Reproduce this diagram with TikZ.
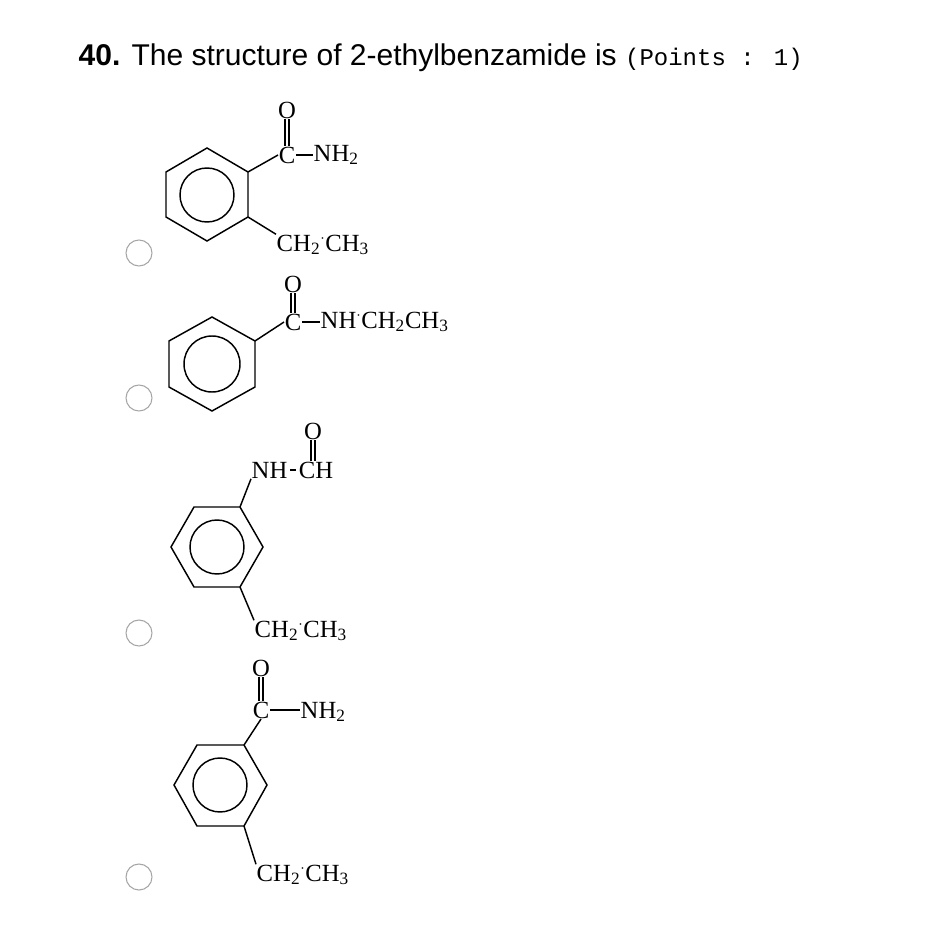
\documentclass[tikz,border=0pt]{standalone}
\usepackage{fontspec}
\setmainfont{Liberation Serif}
\newfontfamily\hsans{Liberation Sans}
\newfontfamily\hmono{Liberation Mono}
\begin{document}
\begin{tikzpicture}[x=0.75pt,y=-0.75pt,line width=1.1pt,
  atom/.style={inner sep=0pt,font=\fontsize{18.5}{18.5}\selectfont},
  radio/.style={circle,draw=gray!70,line width=0.8pt,minimum size=19.5pt,inner sep=0pt,fill=white}]
\useasboundingbox (0,0) rectangle (936,944);
\fill[white] (0,0) rectangle (936,944);
% title
\node[anchor=base west,inner sep=0pt,font=\hsans\fontsize{22.5}{22.5}\selectfont] (title) at (78,66)
  {\textbf{40.} The structure of 2-ethylbenzamide is {\hmono\fontsize{18}{18}\selectfont (Points : 1)}};
% radios
\node[radio] (r1) at (139,253) {};
\node[radio] (r2) at (139,398) {};
\node[radio] (r3) at (139,633) {};
\node[radio] (r4) at (139,877) {};
% ---- structure 1
\draw (207,148) -- (248,172) -- (248,217) -- (207,241) -- (166,217) -- (166,172) -- cycle;
\draw (207,195) circle (27);
\coordinate (a1) at (248,172); \coordinate (a2) at (248,217);
\node[atom] (c1) at (287,155) {C};
\node[atom] (o1) at (287,110) {O};
\node[atom,anchor=west] (n1) at (313,155) {NH\textsubscript{2}};
\node[atom,anchor=west] (e1) at (276,245) {CH\textsubscript{2}$^{\cdot}$CH\textsubscript{3}};
\draw (a1) -- (c1.west);
\draw (a2) -- (e1.north west);
\draw (c1.east) -- (n1.west);
\draw ([xshift=-1.6pt]o1.south) -- ([xshift=-1.6pt]c1.north);
\draw ([xshift=1.6pt]o1.south) -- ([xshift=1.6pt]c1.north);
% ---- structure 2
\draw (212,317) -- (255,341) -- (255,387) -- (212,411) -- (169,387) -- (169,341) -- cycle;
\draw (212,364) circle (28);
\coordinate (b1) at (255,341);
\node[atom] (c2) at (293,322) {C};
\node[atom] (o2) at (293,284) {O};
\node[atom,anchor=west] (n2) at (320,322) {NH$^{\cdot}$CH\textsubscript{2}CH\textsubscript{3}};
\draw (b1) -- (c2.west);
\draw (c2.east) -- (n2.west);
\draw ([xshift=-1.6pt]o2.south) -- ([xshift=-1.6pt]c2.north);
\draw ([xshift=1.6pt]o2.south) -- ([xshift=1.6pt]c2.north);
% ---- structure 3
\draw (263,547) -- (240,507) -- (194,507) -- (171,547) -- (194,587) -- (240,587) -- cycle;
\draw (217,547) circle (27);
\coordinate (d1) at (240,507); \coordinate (d2) at (240,587);
\node[atom,anchor=west] (n3) at (251,470) {NH};
\node[atom] (c3) at (316,470) {CH};
\node[atom] (o3) at (313,431) {O};
\node[atom,anchor=west] (e3) at (254,631) {CH\textsubscript{2}$^{\cdot}$CH\textsubscript{3}};
\draw (d1) -- (n3.south west);
\draw (d2) -- (e3.north west);
\draw[line width=0.8pt] ([xshift=1.5pt]n3.east) -- ([xshift=-1.5pt]c3.west);
\draw ([xshift=-1.6pt]o3.south) -- ([xshift=-1.6pt]o3.south |- c3.north);
\draw ([xshift=1.6pt]o3.south) -- ([xshift=1.6pt]o3.south |- c3.north);
% ---- structure 4
\draw (267,785) -- (244,745) -- (197,745) -- (174,785) -- (197,826) -- (244,826) -- cycle;
\draw (220,785) circle (27);
\coordinate (f1) at (244,745); \coordinate (f2) at (244,826);
\node[atom] (c4) at (261,710) {C};
\node[atom] (o4) at (261,668) {O};
\node[atom,anchor=west] (n4) at (300,712) {NH\textsubscript{2}};
\node[atom,anchor=west] (e4) at (256,875) {CH\textsubscript{2}$^{\cdot}$CH\textsubscript{3}};
\draw (f1) -- (c4.south);
\draw (f2) -- (e4.north west);
\draw (c4.east) -- (n4.west |- c4.east);
\draw ([xshift=-1.6pt]o4.south) -- ([xshift=-1.6pt]c4.north);
\draw ([xshift=1.6pt]o4.south) -- ([xshift=1.6pt]c4.north);
\end{tikzpicture}
\end{document}
